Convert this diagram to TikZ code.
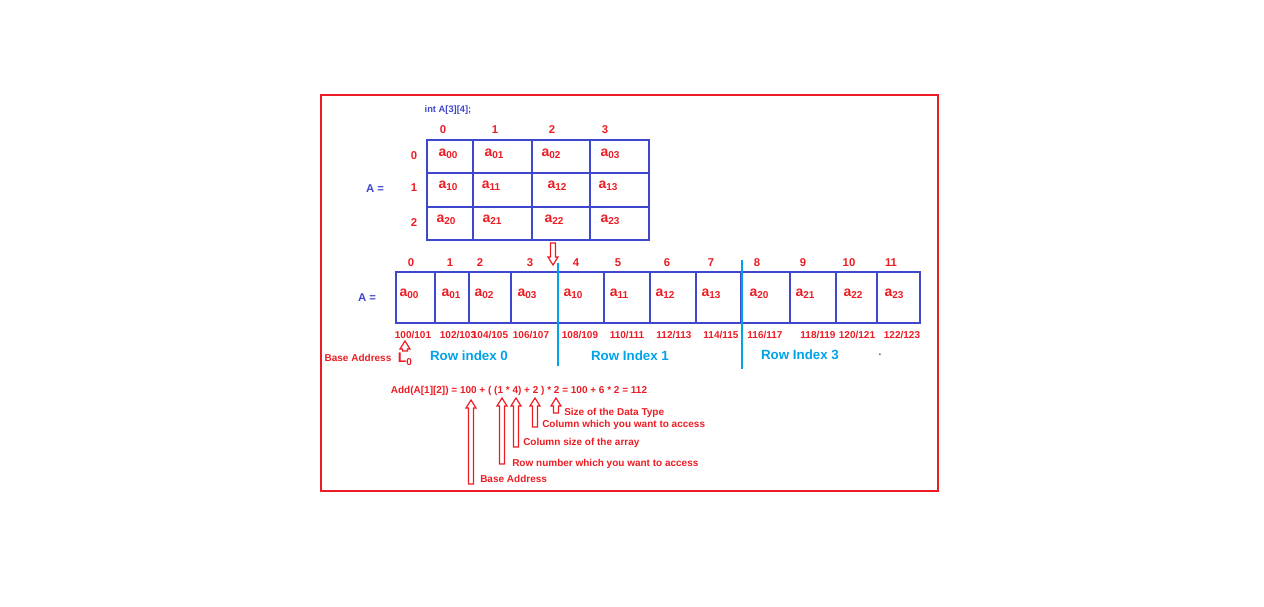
\documentclass[tikz,border=0pt]{standalone}
\usepackage{fontspec}
\setmainfont{Liberation Sans}
\definecolor{rd}{RGB}{237,28,36}
\definecolor{bl}{RGB}{63,72,204}
\definecolor{cy}{RGB}{0,162,232}
\tikzset{
 t/.style={font=\bfseries\fontsize{7.5}{9}\selectfont, text=rd, inner sep=0pt},
 tl/.style={t, anchor=west},
 idx/.style={t, font=\bfseries\fontsize{8.5}{10}\selectfont},
 cell/.style={font=\bfseries\fontsize{10.5}{12}\selectfont, text=rd, inner sep=0pt},
 grid/.style={draw=bl, line width=1.3pt},
 hollow/.style={draw=rd, line width=0.9pt, line join=miter},
 rowlab/.style={font=\bfseries\fontsize{10}{12}\selectfont, text=cy, inner sep=0pt}
}
\newcommand{\ac}[1]{a{\fontsize{7.5}{8}\selectfont\raisebox{-0.3ex}{#1}}}
% hollow arrow: x, tip y, tail y, direction (+1 = tip up)
\newcommand{\harrow}[3]{%
  \draw[hollow] (#1,#2) -- ++(-5,8) -- ++(2.5,0) -- (#1-2.5,#3) -- (#1+2.5,#3) -- (#1+2.5,#2+8) -- ++(2.5,0) -- cycle;}
\newcommand{\harrowdown}[3]{%
  \draw[hollow] (#1,#2) -- ++(-5,-8) -- ++(2.5,0) -- (#1-2.5,#3) -- (#1+2.5,#3) -- (#1+2.5,#2-8) -- ++(2.5,0) -- cycle;}
\begin{document}
\begin{tikzpicture}[x=0.75pt,y=-0.75pt]
\useasboundingbox (0,0) rectangle (1264,607);
\draw[rd, line width=1.1pt] (321,95) rectangle (938,491);
% 2D matrix
\node[font=\bfseries\fontsize{7}{8}\selectfont, text=bl, inner sep=0pt] (decl) at (448,110) {int A[3][4];};
\draw[grid] (427,140) rectangle (649,240);
\foreach \x in {473,532,590} \draw[grid] (\x,140) -- (\x,240);
\foreach \y in {173,207} \draw[grid] (427,\y) -- (649,\y);
\foreach \i/\x in {0/443,1/495,2/552,3/605} \node[idx] (c\i) at (\x,130) {\i};
\foreach \i/\y in {0/156,1/188,2/223} \node[idx] (r\i) at (414,\y) {\i};
\node[idx,text=bl] (A1) at (375,189) {A =};
\foreach \s/\x/\y in {00/448/154,01/494/154,02/551/154,03/610/154,10/448/186,11/491/186,12/557/186,13/608/186,20/446/220,21/492/220,22/554/220,23/610/220}
  \node[cell] (m\s) at (\x,\y) {\ac{\s}};
\harrowdown{553}{265}{243}
% 1D array
\draw[grid] (396,272) rectangle (920,323);
\foreach \x in {435,469,511,558,604,650,696,741,790,836,877} \draw[grid] (\x,272) -- (\x,323);
\foreach \i/\x in {0/411,1/450,2/480,3/530,4/576,5/618,6/667,7/711,8/757,9/803,10/849,11/891}
  \node[idx] (i\i) at (\x,263) {\i};
\node[idx,text=bl] (A2) at (367,298) {A =};
\foreach \s/\x in {00/409,01/451,02/484,03/527,10/573,11/619,12/665,13/711,20/759,21/805,22/853,23/894}
  \node[cell] (l\s) at (\x,294) {\ac{\s}};
\foreach \a/\b/\x in {100/101/413,102/103/458,104/105/490,106/107/531,108/109/580,110/111/627,112/113/674,114/115/721,116/117/765,118/119/818,120/121/857,122/123/902}
  \node[t] (ad\a) at (\x,335) {\a/\b};
\coordinate (s1a) at (558,263); \coordinate (s1b) at (558,366);
\coordinate (s2a) at (742,260); \coordinate (s2b) at (742,369);
\draw[cy, line width=1.3pt] (s1a) -- (s1b);
\draw[cy, line width=1.3pt] (s2a) -- (s2b);
\node[rowlab] (ri0) at (469,356) {Row index 0};
\node[rowlab] (ri1) at (630,356) {Row Index 1};
\node[rowlab] (ri3) at (800,355) {Row Index 3};
\node[t,text=black!70] (dot) at (880,355) {.};
\node[t] (base) at (358,358) {Base Address};
\node[t,font=\bfseries\fontsize{10.5}{12}\selectfont] (L0) at (405,359) {L{\fontsize{7.5}{8}\selectfont\raisebox{-0.6ex}{0}}};
\harrow{405}{341}{351}
% formula
\node[t] (form) at (519,391) {Add(A[1][2]) = 100 + ( (1 * 4) + 2 ) * 2 = 100 + 6 * 2 = 112};
\harrow{471}{400}{484}
\harrow{502}{398}{464}
\harrow{516}{398}{447}
\harrow{535}{398}{427}
\harrow{556}{398}{413}
\node[tl] (b1) at (480,479) {Base Address};
\node[tl] (b2) at (512,464) {Row number which you want to access};
\node[tl] (b3) at (523,443) {Column size of the array};
\node[tl] (b4) at (542,425) {Column which you want to access};
\node[tl] (b5) at (564,413) {Size of the Data Type};
\end{tikzpicture}
\end{document}
